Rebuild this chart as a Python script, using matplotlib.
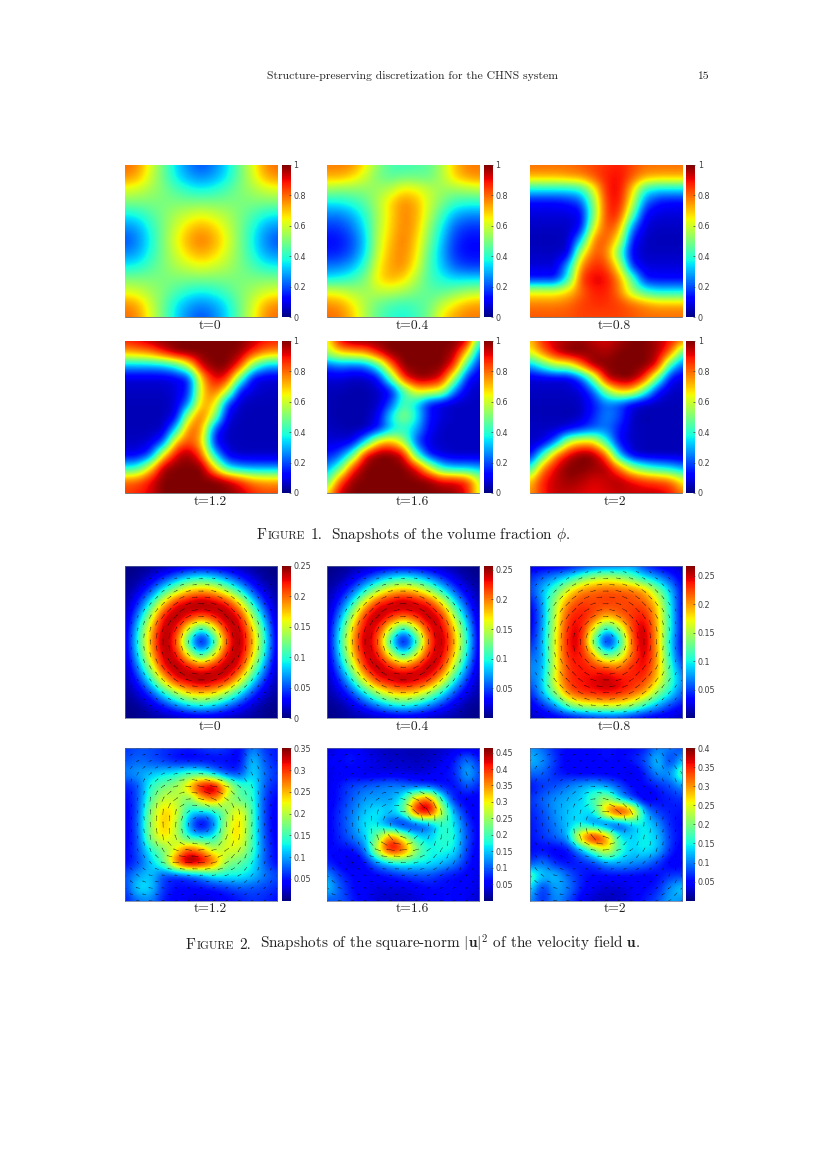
import matplotlib
matplotlib.use("Agg")
import matplotlib.pyplot as plt
import numpy as np

plt.rcParams["font.family"] = ["cmr10", "DejaVu Serif"]
plt.rcParams["mathtext.fontset"] = "cm"
plt.rcParams["axes.formatter.use_mathtext"] = True

# ---- datos: fraccion de volumen (en %) ----
phi_t0 = [
    [80, 76, 62, 48, 34, 25, 20, 25, 34, 48, 62, 76, 80],
    [76, 72, 60, 48, 36, 29, 26, 29, 36, 48, 60, 72, 76],
    [62, 60, 55, 50, 44, 39, 37, 39, 44, 50, 55, 60, 62],
    [50, 50, 50, 50, 50, 50, 50, 50, 50, 50, 50, 50, 50],
    [36, 38, 44, 50, 56, 60, 63, 60, 56, 50, 44, 38, 36],
    [26, 29, 39, 50, 60, 69, 73, 69, 60, 50, 39, 29, 26],
    [20, 26, 37, 50, 63, 73, 78, 73, 63, 50, 37, 26, 20],
    [26, 29, 39, 50, 60, 69, 73, 69, 60, 50, 39, 29, 26],
    [36, 38, 44, 50, 56, 60, 63, 60, 56, 50, 44, 38, 36],
    [50, 50, 50, 50, 50, 50, 50, 50, 50, 50, 50, 50, 50],
    [62, 60, 55, 50, 44, 39, 37, 39, 44, 50, 55, 60, 62],
    [76, 72, 60, 48, 36, 29, 26, 29, 36, 48, 60, 72, 76],
    [80, 76, 62, 48, 34, 25, 20, 25, 34, 48, 62, 76, 80],
]
phi_t04 = [
    [78, 78, 76, 66, 52, 44, 42, 44, 46, 56, 70, 78, 78],
    [72, 72, 68, 60, 50, 46, 48, 48, 48, 56, 68, 74, 76],
    [54, 52, 52, 52, 54, 58, 66, 64, 58, 54, 54, 56, 58],
    [36, 37, 40, 46, 56, 68, 76, 72, 60, 50, 42, 40, 40],
    [25, 25, 30, 40, 55, 68, 77, 73, 58, 42, 30, 26, 26],
    [17, 18, 24, 36, 56, 69, 77, 72, 53, 36, 22, 17, 17],
    [13, 14, 20, 33, 58, 71, 78, 69, 50, 32, 18, 13, 13],
    [15, 16, 22, 35, 60, 73, 77, 67, 46, 30, 17, 13, 13],
    [24, 25, 30, 42, 64, 74, 76, 63, 44, 32, 22, 18, 18],
    [36, 38, 42, 50, 66, 72, 68, 56, 44, 38, 34, 34, 34],
    [62, 60, 56, 54, 58, 58, 55, 50, 46, 46, 50, 54, 56],
    [76, 74, 66, 56, 48, 44, 42, 44, 48, 58, 66, 72, 74],
    [80, 78, 70, 56, 46, 40, 38, 42, 50, 66, 74, 78, 78],
]
phi_t08 = [
    [80, 80, 80, 80, 82, 84, 86, 88, 84, 80, 80, 80, 80],
    [72, 72, 72, 74, 76, 82, 88, 90, 82, 74, 72, 72, 72],
    [36, 36, 36, 36, 40, 62, 88, 91, 70, 40, 34, 34, 34],
    [12, 12, 12, 14, 20, 52, 86, 90, 62, 24, 14, 12, 12],
    [8, 8, 8, 8, 10, 50, 86, 86, 48, 12, 8, 8, 8],
    [6, 6, 6, 6, 12, 62, 84, 76, 25, 8, 6, 6, 6],
    [5, 5, 5, 6, 32, 78, 82, 62, 14, 6, 5, 5, 5],
    [6, 6, 6, 8, 60, 82, 78, 46, 10, 6, 6, 6, 6],
    [8, 8, 8, 30, 76, 87, 84, 62, 16, 8, 8, 8, 8],
    [14, 14, 14, 40, 84, 92, 90, 76, 46, 14, 12, 12, 12],
    [62, 62, 62, 68, 80, 88, 88, 78, 56, 42, 36, 36, 36],
    [78, 78, 78, 80, 84, 86, 86, 84, 80, 76, 72, 72, 72],
    [82, 82, 82, 82, 84, 84, 84, 84, 82, 80, 80, 80, 80],
]
phi_t12 = [
    [88, 92, 96, 100, 100, 100, 100, 100, 100, 100, 96, 90, 88],
    [72, 74, 78, 88, 98, 100, 100, 100, 100, 98, 86, 76, 74],
    [30, 30, 30, 32, 40, 62, 94, 100, 100, 86, 50, 32, 30],
    [8, 8, 8, 8, 10, 16, 70, 92, 88, 48, 12, 8, 8],
    [6, 6, 6, 6, 8, 16, 66, 82, 62, 14, 8, 6, 6],
    [5, 5, 5, 5, 8, 26, 72, 70, 20, 6, 5, 5, 5],
    [5, 5, 5, 5, 10, 60, 82, 54, 10, 5, 5, 5, 5],
    [5, 5, 5, 6, 34, 80, 76, 20, 6, 5, 5, 5, 5],
    [6, 6, 8, 20, 72, 84, 70, 14, 6, 5, 5, 5, 5],
    [10, 10, 20, 66, 92, 98, 82, 36, 10, 6, 6, 6, 6],
    [36, 40, 66, 96, 100, 100, 100, 70, 36, 28, 26, 26, 26],
    [78, 80, 90, 100, 100, 100, 100, 100, 95, 85, 75, 72, 72],
    [85, 88, 92, 100, 100, 100, 100, 100, 100, 96, 88, 84, 84],
]
phi_t16 = [
    [62, 92, 100, 100, 100, 100, 100, 100, 100, 100, 100, 94, 40],
    [56, 68, 72, 76, 90, 100, 100, 100, 100, 100, 96, 68, 22],
    [20, 24, 22, 24, 42, 78, 100, 100, 100, 100, 86, 38, 12],
    [8, 8, 6, 6, 12, 46, 86, 98, 98, 90, 54, 14, 8],
    [5, 5, 4, 4, 6, 12, 42, 66, 66, 60, 24, 8, 6],
    [5, 4, 4, 4, 6, 20, 44, 34, 14, 8, 6, 6, 6],
    [5, 4, 4, 4, 10, 36, 54, 38, 14, 8, 6, 6, 6],
    [6, 5, 4, 5, 14, 32, 40, 30, 12, 6, 6, 6, 6],
    [8, 8, 10, 34, 68, 74, 56, 20, 8, 6, 6, 6, 6],
    [14, 20, 44, 90, 100, 100, 92, 44, 14, 8, 6, 6, 6],
    [26, 44, 84, 100, 100, 100, 100, 90, 62, 36, 30, 30, 28],
    [42, 80, 98, 100, 100, 100, 100, 100, 98, 90, 90, 84, 58],
    [66, 94, 100, 100, 100, 100, 100, 100, 100, 100, 98, 90, 58],
]
phi_t2 = [
    [70, 88, 94, 96, 98, 94, 92, 96, 100, 100, 96, 90, 78],
    [62, 78, 92, 100, 100, 98, 96, 100, 100, 100, 96, 80, 44],
    [28, 42, 56, 58, 78, 98, 100, 100, 100, 100, 90, 40, 20],
    [8, 8, 8, 8, 20, 52, 94, 100, 100, 86, 48, 12, 8],
    [6, 6, 6, 6, 8, 22, 52, 72, 70, 44, 14, 6, 6],
    [5, 5, 5, 5, 6, 14, 24, 20, 10, 6, 5, 5, 5],
    [5, 5, 5, 4, 6, 16, 26, 20, 6, 4, 5, 5, 5],
    [6, 6, 6, 10, 16, 22, 24, 14, 6, 5, 5, 5, 5],
    [6, 8, 24, 60, 70, 68, 40, 12, 6, 5, 5, 5, 5],
    [10, 40, 76, 92, 100, 98, 80, 30, 8, 5, 5, 5, 5],
    [36, 76, 92, 100, 100, 98, 96, 78, 54, 42, 36, 32, 26],
    [68, 88, 94, 98, 96, 92, 94, 96, 90, 85, 82, 78, 62],
    [74, 88, 94, 94, 92, 90, 92, 94, 94, 94, 94, 90, 78],
]

# ---- norma al cuadrado de la velocidad (en milesimas) ----
vel_t0 = [
    [1, 3, 6, 8, 10, 14, 15, 14, 10, 8, 6, 3, 1],
    [3, 6, 18, 38, 62, 85, 95, 85, 62, 38, 18, 6, 3],
    [6, 18, 48, 95, 140, 175, 185, 175, 140, 95, 48, 18, 6],
    [8, 38, 95, 170, 225, 240, 250, 240, 225, 170, 95, 38, 8],
    [10, 62, 140, 225, 245, 228, 210, 228, 245, 225, 140, 62, 10],
    [14, 85, 175, 240, 228, 150, 90, 150, 228, 240, 175, 85, 14],
    [15, 95, 185, 248, 210, 90, 10, 90, 210, 248, 185, 95, 15],
    [14, 85, 175, 240, 228, 150, 90, 150, 228, 240, 175, 85, 14],
    [10, 62, 140, 225, 245, 228, 210, 228, 245, 225, 140, 62, 10],
    [8, 38, 95, 170, 225, 240, 250, 240, 225, 170, 95, 38, 8],
    [6, 18, 48, 95, 140, 175, 185, 175, 140, 95, 48, 18, 6],
    [3, 6, 18, 38, 62, 85, 95, 85, 62, 38, 18, 6, 3],
    [1, 3, 6, 8, 10, 14, 15, 14, 10, 8, 6, 3, 1],
]
vel_t04 = [
    [2, 4, 8, 10, 12, 15, 16, 15, 12, 10, 8, 4, 2],
    [4, 8, 22, 42, 66, 88, 98, 88, 66, 42, 22, 8, 4],
    [8, 22, 52, 98, 145, 178, 190, 178, 145, 98, 52, 22, 8],
    [10, 42, 98, 175, 228, 243, 253, 243, 228, 175, 98, 42, 10],
    [12, 66, 145, 228, 250, 230, 212, 230, 250, 228, 145, 66, 12],
    [15, 88, 178, 243, 230, 152, 90, 152, 230, 243, 178, 88, 15],
    [16, 98, 190, 252, 212, 90, 10, 90, 212, 252, 190, 98, 16],
    [15, 88, 178, 243, 230, 152, 90, 152, 230, 243, 178, 88, 15],
    [12, 66, 145, 228, 250, 230, 212, 230, 250, 228, 145, 66, 12],
    [10, 42, 98, 175, 228, 243, 253, 243, 228, 175, 98, 42, 10],
    [8, 22, 52, 98, 145, 178, 190, 178, 145, 98, 52, 22, 8],
    [4, 8, 22, 42, 66, 88, 98, 88, 66, 42, 22, 8, 4],
    [2, 4, 8, 10, 12, 15, 16, 15, 12, 10, 8, 4, 2],
]
vel_t08 = [
    [20, 25, 22, 25, 35, 45, 50, 55, 70, 40, 25, 18, 15],
    [45, 60, 75, 95, 125, 150, 160, 150, 125, 95, 75, 50, 25],
    [50, 85, 120, 170, 205, 215, 220, 220, 215, 195, 140, 85, 30],
    [30, 75, 150, 210, 230, 225, 230, 225, 225, 220, 180, 95, 28],
    [22, 70, 160, 230, 240, 225, 195, 215, 230, 240, 190, 100, 25],
    [25, 75, 165, 240, 245, 170, 95, 140, 230, 255, 195, 100, 30],
    [35, 80, 170, 245, 245, 125, 15, 85, 220, 260, 195, 90, 25],
    [55, 75, 170, 240, 240, 190, 110, 140, 215, 255, 200, 95, 30],
    [70, 75, 170, 230, 240, 230, 225, 210, 235, 245, 195, 110, 50],
    [60, 85, 175, 230, 240, 245, 255, 245, 235, 230, 185, 115, 70],
    [40, 85, 145, 215, 235, 240, 245, 240, 225, 200, 140, 100, 55],
    [25, 45, 75, 130, 160, 170, 175, 170, 150, 110, 80, 50, 35],
    [15, 20, 25, 25, 30, 35, 40, 40, 30, 25, 22, 20, 12],
]
vel_t12 = [
    [60, 70, 70, 60, 55, 50, 60, 70, 60, 40, 90, 60, 50],
    [70, 80, 70, 60, 45, 40, 40, 40, 45, 40, 120, 70, 50],
    [90, 100, 110, 120, 130, 150, 145, 100, 60, 60, 125, 80, 60],
    [50, 70, 140, 170, 190, 250, 340, 360, 240, 150, 140, 70, 50],
    [40, 70, 155, 210, 205, 170, 250, 285, 200, 160, 145, 60, 40],
    [35, 70, 185, 245, 225, 125, 115, 125, 185, 235, 150, 60, 35],
    [35, 75, 190, 250, 210, 90, 12, 80, 205, 245, 150, 60, 35],
    [35, 70, 185, 240, 205, 130, 120, 130, 215, 240, 150, 65, 35],
    [40, 70, 135, 175, 220, 300, 265, 200, 220, 210, 150, 70, 40],
    [40, 65, 110, 160, 295, 370, 345, 285, 180, 165, 130, 70, 40],
    [70, 100, 115, 65, 55, 65, 90, 125, 130, 130, 115, 85, 70],
    [60, 125, 120, 60, 45, 45, 45, 50, 60, 70, 70, 65, 55],
    [50, 80, 90, 50, 40, 30, 25, 30, 40, 50, 60, 55, 45],
]
vel_t16 = [
    [30, 50, 60, 40, 30, 25, 25, 20, 25, 30, 40, 50, 30],
    [50, 60, 70, 50, 40, 30, 30, 25, 30, 40, 70, 120, 70],
    [40, 50, 50, 40, 40, 40, 40, 35, 40, 60, 70, 150, 90],
    [40, 70, 90, 100, 110, 120, 110, 90, 80, 60, 60, 100, 70],
    [40, 70, 100, 130, 130, 130, 180, 340, 390, 190, 60, 50, 50],
    [50, 80, 115, 150, 170, 150, 210, 440, 470, 280, 130, 60, 50],
    [50, 80, 120, 170, 160, 80, 40, 60, 100, 190, 170, 80, 50],
    [50, 75, 110, 150, 240, 390, 280, 170, 150, 190, 180, 90, 50],
    [60, 60, 60, 110, 300, 450, 400, 250, 170, 180, 170, 80, 45],
    [70, 50, 30, 60, 120, 160, 180, 170, 170, 150, 120, 70, 40],
    [130, 80, 60, 50, 55, 65, 80, 90, 90, 70, 60, 55, 40],
    [160, 100, 60, 50, 40, 40, 40, 50, 60, 60, 60, 50, 40],
    [90, 100, 70, 50, 35, 30, 30, 35, 50, 60, 60, 45, 30],
]
vel_t2 = [
    [110, 90, 60, 50, 50, 50, 55, 50, 50, 60, 100, 100, 70],
    [130, 110, 70, 40, 50, 50, 55, 50, 60, 80, 140, 60, 130],
    [90, 90, 60, 50, 40, 40, 40, 40, 30, 60, 110, 110, 200],
    [50, 70, 80, 100, 120, 130, 110, 80, 50, 50, 60, 80, 110],
    [70, 90, 110, 120, 130, 180, 230, 130, 70, 30, 50, 60, 70],
    [60, 80, 110, 130, 140, 140, 310, 410, 340, 120, 70, 60, 55],
    [55, 75, 100, 130, 140, 90, 50, 50, 120, 150, 110, 60, 50],
    [55, 70, 90, 120, 310, 410, 320, 150, 130, 150, 130, 70, 50],
    [50, 50, 40, 50, 110, 190, 270, 170, 130, 150, 130, 65, 40],
    [70, 100, 60, 50, 60, 70, 110, 120, 110, 100, 70, 40, 45],
    [190, 130, 130, 90, 60, 50, 50, 50, 50, 45, 50, 70, 70],
    [140, 60, 120, 100, 60, 40, 30, 30, 40, 50, 60, 110, 140],
    [110, 60, 110, 80, 40, 25, 20, 25, 40, 60, 80, 120, 100],
]

# direccion de las flechas en grados, en los nodos y en los centros de celda
ang_anillo = [
    [45, 40, 34, 27, 18, 9, 0, -9, -18, -27, -34, -40, -45],
    [50, 45, 39, 31, 22, 11, 0, -11, -22, -31, -39, -45, -50],
    [56, 51, 45, 37, 27, 14, 0, -14, -27, -37, -45, -51, -56],
    [63, 59, 53, 45, 34, 18, 0, -18, -34, -45, -53, -59, -63],
    [72, 68, 63, 56, 45, 27, 0, -27, -45, -56, -63, -68, -72],
    [81, 79, 76, 72, 63, 45, 0, -45, -63, -72, -76, -79, -81],
    [90, 90, 90, 90, 90, 90, 0, -90, -90, -90, -90, -90, -90],
    [99, 101, 104, 108, 117, 135, 180, -135, -117, -108, -104, -101, -99],
    [108, 112, 117, 124, 135, 153, 180, -153, -135, -124, -117, -112, -108],
    [117, 121, 127, 135, 146, 162, 180, -162, -146, -135, -127, -121, -117],
    [124, 129, 135, 143, 153, 166, 180, -166, -153, -143, -135, -129, -124],
    [130, 135, 141, 149, 158, 169, 180, -169, -158, -149, -141, -135, -130],
    [135, 140, 146, 153, 162, 171, 180, -171, -162, -153, -146, -140, -135],
]
ang_anillo_c = [
    [45, 39, 32, 24, 15, 5, -5, -15, -24, -32, -39, -45],
    [51, 45, 38, 29, 18, 6, -6, -18, -29, -38, -45, -51],
    [58, 52, 45, 36, 23, 8, -8, -23, -36, -45, -52, -58],
    [66, 61, 54, 45, 31, 11, -11, -31, -45, -54, -61, -66],
    [75, 72, 67, 59, 45, 18, -18, -45, -59, -67, -72, -75],
    [85, 84, 82, 79, 72, 45, -45, -72, -79, -82, -84, -85],
    [95, 96, 98, 101, 108, 135, -135, -108, -101, -98, -96, -95],
    [105, 108, 113, 121, 135, 162, -162, -135, -121, -113, -108, -105],
    [114, 119, 126, 135, 149, 169, -169, -149, -135, -126, -119, -114],
    [122, 128, 135, 144, 157, 172, -172, -157, -144, -135, -128, -122],
    [129, 135, 142, 151, 162, 174, -174, -162, -151, -142, -135, -129],
    [135, 141, 148, 156, 165, 175, -175, -165, -156, -148, -141, -135],
]
ang_cizalla = [
    [20, 10, 10, 10, 5, 0, -5, -10, -15, -20, -80, -40, -30],
    [40, 30, 20, 20, 10, 5, -5, -10, -15, -20, -70, -50, -40],
    [70, 60, 40, 25, 15, 5, -5, -10, -15, -30, -60, -70, -60],
    [85, 80, 65, 35, 15, -5, -12, -10, -15, -40, -70, -80, -70],
    [90, 90, 80, 65, 35, 5, -15, -25, -35, -60, -80, -85, -80],
    [90, 95, 90, 85, 75, 40, 0, -40, -60, -80, -90, -90, -85],
    [90, 95, 95, 92, 85, 90, 0, -90, -95, -95, -95, -95, -90],
    [100, 100, 100, 100, 110, 130, 160, -140, -110, -100, -100, -100, -95],
    [110, 110, 110, 120, 160, 170, -175, -165, -145, -120, -105, -100, -100],
    [120, 120, 130, 165, 175, 175, -175, -165, -150, -135, -120, -110, -100],
    [135, 140, 165, 170, 170, 175, -175, -170, -160, -150, -130, -115, -110],
    [150, 170, 170, 170, 175, 175, 180, -175, -170, -165, -150, -140, -130],
    [160, 170, 175, 175, 175, 180, 180, -175, -170, -165, -160, -150, -140],
]
ang_cizalla_c = [
    [30, 18, 15, 12, 5, 0, -8, -12, -18, -50, -60, -35],
    [55, 40, 28, 20, 10, 0, -8, -12, -22, -45, -65, -55],
    [78, 65, 40, 22, 5, -8, -12, -12, -28, -55, -75, -70],
    [88, 82, 65, 40, 15, -8, -18, -25, -45, -70, -82, -78],
    [90, 90, 82, 65, 30, 0, -25, -45, -65, -85, -88, -85],
    [92, 95, 90, 85, 70, 25, -50, -75, -90, -92, -92, -88],
    [95, 98, 98, 95, 100, 130, -130, -100, -98, -98, -98, -92],
    [105, 105, 110, 130, 150, 170, -165, -130, -110, -100, -100, -98],
    [115, 118, 135, 165, 172, 178, -170, -155, -130, -110, -103, -100],
    [128, 140, 160, 172, 173, 178, -172, -165, -150, -128, -112, -105],
    [145, 160, 168, 170, 175, 178, -175, -168, -158, -140, -125, -115],
    [160, 172, 172, 175, 178, 180, -178, -172, -168, -158, -148, -135],
]

tiempos = ["t=0", "t=0.4", "t=0.8", "t=1.2", "t=1.6", "t=2"]
phis = [phi_t0, phi_t04, phi_t08, phi_t12, phi_t16, phi_t2]
vels = [vel_t0, vel_t04, vel_t08, vel_t12, vel_t16, vel_t2]
angulos = [ang_anillo, ang_anillo, ang_anillo, ang_cizalla, ang_cizalla, ang_cizalla]
angulos_c = [ang_anillo_c, ang_anillo_c, ang_anillo_c, ang_cizalla_c, ang_cizalla_c, ang_cizalla_c]

phi_ticks = [0, 0.2, 0.4, 0.6, 0.8, 1]
phi_labels = ["0", "0.2", "0.4", "0.6", "0.8", "1"]
vel_vmax = [0.25, 0.257, 0.268, 0.35, 0.463, 0.40]
vel_ticks = [
    [0, 0.05, 0.1, 0.15, 0.2, 0.25],
    [0.05, 0.1, 0.15, 0.2, 0.25],
    [0.05, 0.1, 0.15, 0.2, 0.25],
    [0.05, 0.1, 0.15, 0.2, 0.25, 0.3, 0.35],
    [0.05, 0.1, 0.15, 0.2, 0.25, 0.3, 0.35, 0.4, 0.45],
    [0.05, 0.1, 0.15, 0.2, 0.25, 0.3, 0.35, 0.4],
]

ANCHO, ALTO = 827, 1169
COLS_X = [125, 327, 529.7]
FILAS_Y = [165, 340.7, 565.7, 748.3]
LADO = 152.3


def caja_px(x, y, w, h):
    return [x / ANCHO, 1 - (y + h) / ALTO, w / ANCHO, h / ALTO]


def flechas(ax, xs, ys, mag, angulo):
    rad = np.radians(np.array(angulo))
    ax.quiver(xs, ys, mag * np.cos(rad), mag * np.sin(rad), angles="xy", scale_units="xy",
              scale=12, pivot="mid", color="black", alpha=0.8, width=0.003,
              headwidth=2.6, headlength=3.5, headaxislength=3)


def panel(fig, x, y, campo, vmin, vmax, ticks, labels, etiqueta, angulo=None, angulo_c=None):
    ax = fig.add_axes(caja_px(x, y, LADO, LADO))
    d = 1 / 24
    # los nodos de la malla caen sobre el borde del panel
    im = ax.imshow(campo, cmap="jet", vmin=vmin, vmax=vmax, extent=(-d, 1 + d, -d, 1 + d),
                   aspect="auto", interpolation="quadric", interpolation_stage="data")
    ax.set_xlim(0, 1)
    ax.set_ylim(0, 1)
    ax.set_xticks([])
    ax.set_yticks([])
    for lado in ax.spines.values():
        lado.set_linewidth(0.5)
        lado.set_color("#5a6a90" if angulo is not None else "none")
    if angulo is None:
        ax.spines["bottom"].set_color("#444444")

    if angulo is not None:
        mag = np.sqrt(campo)
        xs = np.linspace(0, 1, 13)
        ys = np.linspace(1, 0, 13)
        flechas(ax, xs, ys, mag, angulo)
        # la largura en los centros sale del campo en las cuatro esquinas de la celda
        mag_c = (mag[:-1, :-1] + mag[1:, :-1] + mag[:-1, 1:] + mag[1:, 1:]) / 4
        flechas(ax, (xs[:-1] + xs[1:]) / 2, (ys[:-1] + ys[1:]) / 2, mag_c, angulo_c)

    cax = fig.add_axes(caja_px(x + 156.5, y, 9, LADO))
    cb = fig.colorbar(im, cax=cax, ticks=ticks)
    cb.set_ticklabels(labels)
    cb.outline.set_visible(False)
    cax.tick_params(labelsize=5.8, length=1.2, width=0.5, pad=1.8, colors="#404040", direction="in",
                    labelfontfamily="DejaVu Sans")

    fig.text((x + 85) / ANCHO, 1 - (y + LADO + 8.5) / ALTO, etiqueta, ha="center", va="center",
             fontsize=9.8, color="#222222")


def caption(fig, x, y, resto, numero):
    # "Figure" en versalitas: F grande y el resto mas chico
    r = fig.canvas.get_renderer()
    xa = x
    for txt, tam, hueco in [("F", 11, 1.0), ("IGURE", 8.2, 5.0), (numero + ".", 11, 9.0)]:
        t = fig.text(xa / ANCHO, 1 - y / ALTO, txt, fontsize=tam, va="baseline", color="#222222")
        xa = t.get_window_extent(r).x1 + hueco
    fig.text(xa / ANCHO, 1 - y / ALTO, resto, fontsize=11, va="baseline", color="#222222")


fig = plt.figure(figsize=(ANCHO / 100, ALTO / 100), dpi=100)

for k in range(6):
    x = COLS_X[k % 3]
    y = FILAS_Y[k // 3]
    panel(fig, x, y, np.array(phis[k]) / 100, 0, 1, phi_ticks, phi_labels, tiempos[k])

for k in range(6):
    x = COLS_X[k % 3]
    y = FILAS_Y[2 + k // 3]
    labels = ["%g" % v for v in vel_ticks[k]]
    panel(fig, x, y, np.array(vels[k]) / 1000, 0, vel_vmax[k], vel_ticks[k], labels, tiempos[k],
          angulos[k], angulos_c[k])

fig.text(267 / ANCHO, 1 - 79 / ALTO, "Structure-preserving discretization for the CHNS system",
         fontsize=8.45, va="baseline", color="#222222")
fig.text(697 / ANCHO, 1 - 79 / ALTO, "15", fontsize=8.45, va="baseline", color="#222222")

caption(fig, 257, 539, r"Snapshots of the volume fraction $\phi$.", "1")
caption(fig, 186, 949, r"Snapshots of the square-norm $|\mathbf{u}|^2$ of the velocity field $\mathbf{u}$.", "2")

fig.savefig("out.png", dpi=100)
